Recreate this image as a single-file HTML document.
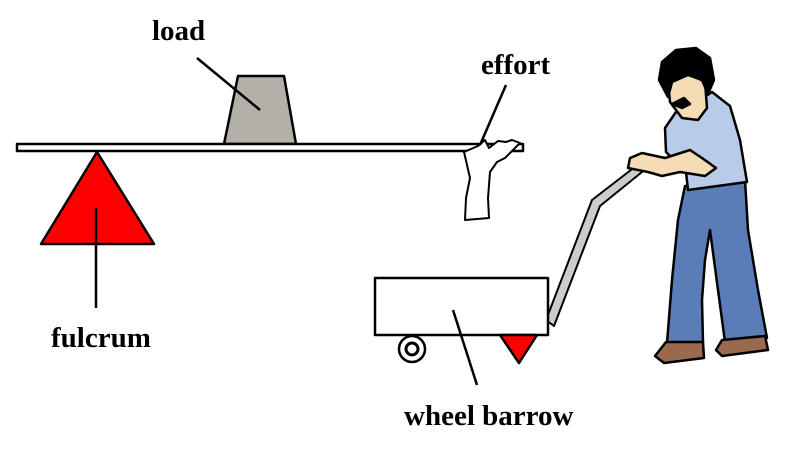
<!DOCTYPE html>
<html><head><style>
html,body{margin:0;padding:0;background:#fff;}
svg{display:block;}
text{font-family:"Liberation Serif",serif;font-weight:bold;font-size:29px;fill:#000;}
</style></head><body>
<svg width="788" height="455" viewBox="0 0 788 455" xmlns="http://www.w3.org/2000/svg">
<g stroke="#000" stroke-width="2.5" stroke-linejoin="round">
<!-- load -->
<polygon points="238,76 284,76 296,144 224,144" fill="#b3afa9"/>
<!-- beam -->
<rect x="17" y="144" width="506" height="7" fill="#fff"/>
<!-- fulcrum -->
<polygon points="97,152 154,244 41,244" fill="#f00"/>
<!-- glove -->
<path d="M464,152 L478,146 L485,140 L489,148 L498,141 L506,142 L512,140 L520,143 L505,158 L497,162 L490,172 L488,198 L489,218 L465,220 L466,198 L470,178 Z" fill="#fff" stroke-width="2"/>
<!-- handle -->
<polygon points="546,320 592,200 636,166 642,172 600,206 554,326" fill="#ccc" stroke-width="2"/>
<!-- wheelbarrow box -->
<rect x="375" y="278" width="173" height="57" fill="#fff"/>
<polygon points="500,335 537,335 519,363" fill="#f00"/>
<circle cx="412" cy="349" r="13" fill="#fff"/>
<circle cx="412" cy="349" r="6" fill="#fff" stroke-width="3"/>
<!-- pants -->
<path d="M685,186 L745,180 L748,230 L758,290 L767,338 L725,342 L718,290 L710,230 L705,260 L702,300 L703,342 L667,343 L672,280 L678,220 Z" fill="#5a7db8"/>
<!-- shoes -->
<path d="M666,342 L703,342 L704,358 L664,363 L655,356 Z" fill="#9a6a4e"/>
<path d="M722,340 L765,336 L768,350 L722,356 L716,350 Z" fill="#9a6a4e"/>
<!-- shirt -->
<path d="M676,112 L700,100 L712,92 L730,106 L740,140 L747,182 L688,190 L686,172 L666,152 L665,128 Z" fill="#b8cbe8"/>
<!-- arms -->
<path d="M630,158 L642,153 L665,158 L690,150 L702,158 L716,168 L705,176 L680,172 L662,176 L648,172 L628,168 Z" fill="#f6dcb4"/>
<!-- head -->
<path d="M668,82 L690,74 L705,82 L707,108 L698,120 L682,118 L670,102 Z" fill="#f6dcb4"/>
<path d="M659,80 L662,62 L676,50 L696,48 L710,58 L714,80 L708,94 L702,80 L688,75 L672,82 L668,97 Z" fill="#000"/>
<path d="M672,104 L684,98 L690,104 L682,108 Z" fill="#000"/>
<!-- lines -->
<line x1="197" y1="58" x2="260" y2="110"/>
<line x1="96" y1="208" x2="96" y2="308"/>
<line x1="506" y1="85" x2="480" y2="145"/>
<line x1="453" y1="310" x2="477" y2="385"/>
</g>
<text x="152" y="40">load</text>
<text x="481" y="74">effort</text>
<text x="51" y="347">fulcrum</text>
<text x="404" y="425">wheel barrow</text>
</svg>
</body></html>
